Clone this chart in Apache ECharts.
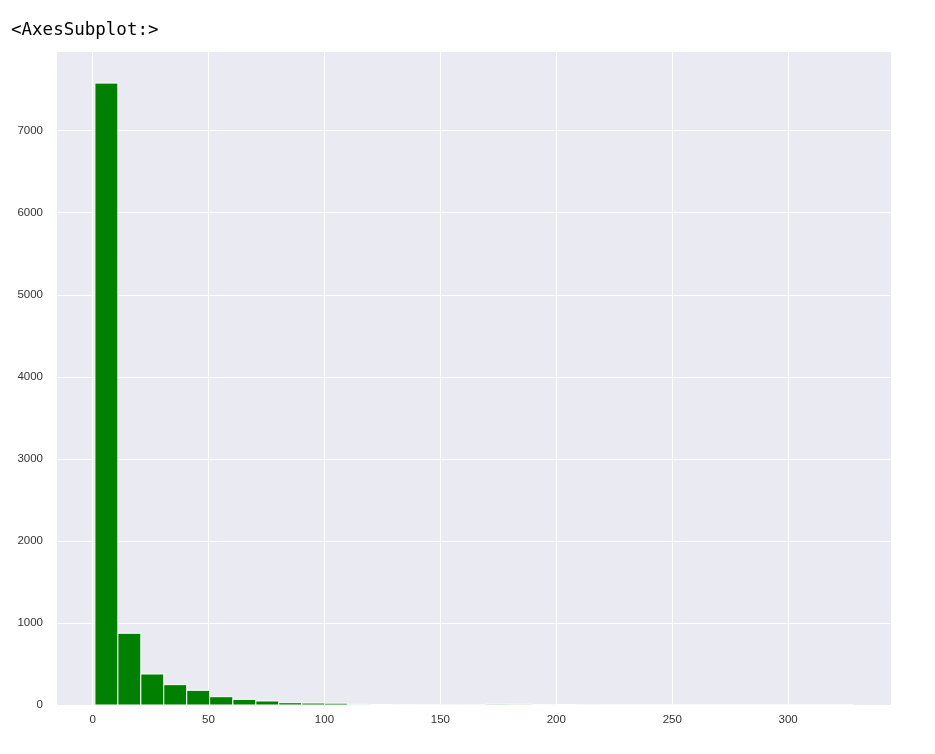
<!DOCTYPE html>
<html>
<head>
<meta charset="utf-8">
<script src="https://cdn.jsdelivr.net/npm/echarts@6/dist/echarts.min.js"></script>
<style>
html,body{margin:0;padding:0;background:#fff;}
#chart{width:935px;height:754px;}
</style>
</head>
<body>
<div id="chart"></div>
<script>
// Histogram bin edges (34 edges -> 33 bins)
var binEdges = [1, 10.9, 20.8, 30.7, 40.6, 50.5, 60.5, 70.4, 80.3, 90.2, 100.1, 110.0,
  119.9, 129.8, 139.7, 149.6, 159.5, 169.5, 179.4, 189.3, 199.2, 209.1, 219.0, 228.9,
  238.8, 248.7, 258.6, 268.5, 278.5, 288.4, 298.3, 308.2, 318.1, 328.0];
// Counts per bin
var counts = [7580, 874, 378, 248, 179, 101, 69, 49, 28, 24, 22, 8, 6, 5, 4, 3, 2, 10, 9, 5,
  6, 2, 1, 1, 1, 0, 1, 0, 0, 1, 0, 0, 1];
var xTicks = [0, 50, 100, 150, 200, 250, 300];
var yTicks = [0, 1000, 2000, 3000, 4000, 5000, 6000, 7000];
var titleText = '<AxesSubplot:>';

var data = counts.map(function (c, i) { return [binEdges[i], binEdges[i + 1], c]; });

var chart = echarts.init(document.getElementById('chart'));
chart.setOption({
  animation: false,
  backgroundColor: '#ffffff',
  title: {
    text: titleText, left: 6, top: 16,
    textStyle: { fontFamily: 'DejaVu Sans Mono', fontSize: 17.5, fontWeight: 'normal', color: '#000' }
  },
  grid: {
    left: 57, right: 44, top: 52, bottom: 49,
    show: true, backgroundColor: '#EAEAF2', borderWidth: 0
  },
  xAxis: {
    type: 'value', min: -15.35, max: 344.35,
    axisLine: { show: false },
    axisTick: { show: false, customValues: xTicks },
    axisLabel: { customValues: xTicks, formatter: function (v) { return String(v); },
      color: '#333', fontFamily: 'Liberation Sans', fontSize: 11.5, margin: 9 },
    splitLine: { show: true, lineStyle: { color: '#ffffff', width: 1 } }
  },
  yAxis: {
    type: 'value', min: 0, max: 7959,
    axisLine: { show: false },
    axisTick: { show: false, customValues: yTicks },
    axisLabel: { customValues: yTicks, formatter: function (v) { return String(v); },
      color: '#333', fontFamily: 'Liberation Sans', fontSize: 11.5, margin: 14 },
    splitLine: { show: true, lineStyle: { color: '#ffffff', width: 1 } }
  },
  series: [{
    type: 'custom',
    data: data,
    encode: { x: [0, 1], y: 2 },
    renderItem: function (params, api) {
      var p0 = api.coord([api.value(0), 0]);
      var p1 = api.coord([api.value(1), api.value(2)]);
      return {
        type: 'rect',
        shape: { x: p0[0], y: p1[1], width: p1[0] - p0[0], height: p0[1] - p1[1] },
        style: { fill: '#008000', stroke: '#ffffff', lineWidth: 1 }
      };
    }
  }]
});
</script>
</body>
</html>
